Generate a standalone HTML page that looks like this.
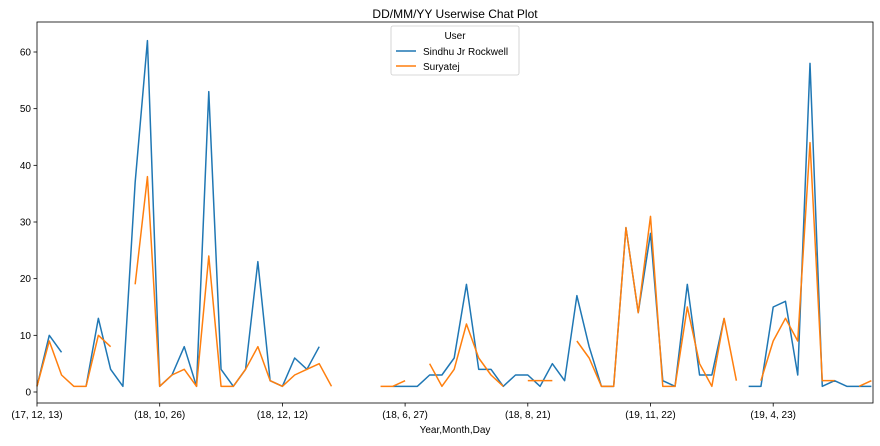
<!DOCTYPE html>
<html><head><meta charset="utf-8"><style>
body{margin:0;background:#fff;}
svg text{font-family:"Liberation Sans","DejaVu Sans",sans-serif;fill:#000;}
</style></head><body>
<svg id="chart" width="880" height="441" viewBox="0 0 880 441" xmlns="http://www.w3.org/2000/svg">
<text x="455" y="18" text-anchor="middle" font-size="12">DD/MM/YY Userwise Chat Plot</text>
<text x="455" y="433" text-anchor="middle" font-size="10">Year,Month,Day</text>
<g id="yaxis"></g>
<g id="xaxis"></g>
<g id="series"></g>
<rect x="37" y="22" width="836" height="381" fill="none" stroke="#000" stroke-width="0.8"/>
<g>
<rect x="391" y="26" width="128" height="49" rx="2" fill="#fff" fill-opacity="0.8" stroke="#ccc" stroke-width="0.8"/>
<text x="455" y="39" text-anchor="middle" font-size="10">User</text>
<line x1="396" y1="51" x2="416" y2="51" stroke="#1f77b4" stroke-width="1.5"/>
<text x="423" y="55" font-size="10">Sindhu Jr Rockwell</text>
<line x1="396" y1="66" x2="416" y2="66" stroke="#ff7f0e" stroke-width="1.5"/>
<text x="423" y="70" font-size="10">Suryatej</text>
</g>
</svg>
<script>
const xTickLabels = ["(17, 12, 13)","(18, 10, 26)","(18, 12, 12)","(18, 6, 27)","(18, 8, 21)","(19, 11, 22)","(19, 4, 23)"];
const xTickIndex = [0,10,20,30,40,50,60];
const yTicks = [0,10,20,30,40,50,60];
const _ = null;
const sindhu = [1,10,7,_,1,13,4,1,37,62,1,3,8,1,53,4,1,4,23,2,1,6,4,8,_,_,_,_,_,1,1,1,3,3,6,19,4,4,1,3,3,1,5,2,17,8,1,1,29,14,28,2,1,19,3,3,13,_,1,1,15,16,3,58,1,2,1,1,1];
const suryatej = [1,9,3,1,1,10,8,_,19,38,1,3,4,1,24,1,1,4,8,2,1,3,4,5,1,_,_,_,1,1,2,_,5,1,4,12,6,3,1,_,2,2,2,_,9,6,1,1,29,14,31,1,1,15,5,1,13,2,_,2,9,13,9,44,2,2,_,1,2];
const NS="http://www.w3.org/2000/svg";
const X0=37, DX=12.27, Y0=392, YS=340/60;
function xs(i){return X0+i*DX;}
function ys(v){return Y0-v*YS;}
const ya=document.getElementById('yaxis'), xa=document.getElementById('xaxis'), sg=document.getElementById('series');
yTicks.forEach(v=>{
  const l=document.createElementNS(NS,'line');
  l.setAttribute('x1',33.5);l.setAttribute('x2',37);l.setAttribute('y1',ys(v));l.setAttribute('y2',ys(v));l.setAttribute('stroke','#000');l.setAttribute('stroke-width','0.8');
  
  
  ya.appendChild(l);
  const t=document.createElementNS(NS,'text');
  t.setAttribute('x',31);t.setAttribute('y',ys(v)+3.5);t.setAttribute('text-anchor','end');t.setAttribute('font-size','10');t.textContent=v;
  
  
  ya.appendChild(t);
});
xTickIndex.forEach((i,k)=>{
  const l=document.createElementNS(NS,'line');
  l.setAttribute('x1',xs(i));l.setAttribute('x2',xs(i));l.setAttribute('y1',403);l.setAttribute('y2',406.5);l.setAttribute('stroke','#000');l.setAttribute('stroke-width','0.8');
  
  
  xa.appendChild(l);
  const t=document.createElementNS(NS,'text');
  t.setAttribute('x',xs(i));t.setAttribute('y',418);t.setAttribute('text-anchor','middle');t.setAttribute('font-size','10');t.textContent=xTickLabels[k];
  
  
  xa.appendChild(t);
});
function draw(arr,color,name){
  let d='',pen=false;
  arr.forEach((v,i)=>{
    if(v===null){pen=false;return;}
    d+=(pen?'L':'M')+xs(i).toFixed(2)+' '+ys(v).toFixed(2)+' ';pen=true;
  });
  const p=document.createElementNS(NS,'path');
  p.setAttribute('d',d);p.setAttribute('fill','none');p.setAttribute('stroke',color);p.setAttribute('stroke-width','1.5');p.setAttribute('stroke-linejoin','round');
  
  
  sg.appendChild(p);
}
draw(sindhu,'#1f77b4','line-sindhu');
draw(suryatej,'#ff7f0e','line-suryatej');
</script>
</body></html>
